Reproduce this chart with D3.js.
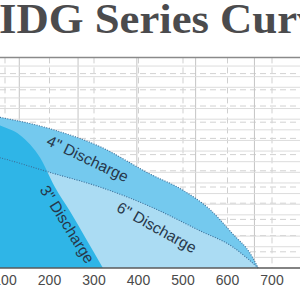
<!DOCTYPE html>
<html>
<head>
<meta charset="utf-8">
<script src="https://cdn.jsdelivr.net/npm/d3@7"></script>
<style>
  html, body { margin: 0; padding: 0; background: #fff; overflow: hidden; }
  svg { display: block; }
</style>
</head>
<body>
<div id="chart"></div>
<script>
// pump curves, flow in GPM, head in feet
const gpm4 = [0, 89, 201, 313, 426, 500, 561, 612, 651, 669];
const head4 = [97, 93, 86, 75, 58, 48, 36, 21, 9, 0];
const gpm6 = [0, 89, 201, 313, 426, 538, 612, 669];
const head6 = [73, 68, 59, 50, 38, 23, 13, 0];
const gpm3 = [0, 89, 134, 179, 212, 246, 280, 320];
const head3 = [97, 88, 82, 68, 50, 35, 19, 0];
const xTicks = [100, 200, 300, 400, 500, 600, 700];
const labels = ['4" Discharge', '3" Discharge', '6" Discharge'];
const labelGpm = [286, 240, 441];
const labelHead = [67.5, 27, 25];
const labelAngle = [25.5, 58, 29];

const W = 300, H = 300;
const svg = d3.select("#chart").append("svg").attr("width", W).attr("height", H);

const x = d3.scaleLinear().domain([0, 800]).range([-39.5, 316.5]);
const y = d3.scaleLinear().domain([0, 130]).range([268, 57.4]);

// grid: dashed = 100 gpm / 10 ft, solid = 500 L/min / 2 m
const g = svg.append("g");
g.selectAll(".vd").data(d3.range(0, 801, 100)).enter().append("line")
  .attr("x1", d => x(d)).attr("x2", d => x(d)).attr("y1", y(130)).attr("y2", y(0))
  .attr("stroke", "#cfcfcf").attr("stroke-dasharray", "6,4");
g.selectAll(".hd").data(d3.range(10, 130, 10)).enter().append("line")
  .attr("x1", 0).attr("x2", W).attr("y1", d => y(d)).attr("y2", d => y(d))
  .attr("stroke", "#d2d2d2").attr("stroke-dasharray", "6,4");
g.selectAll(".vs").data(d3.range(1, 7).map(k => k * 500 / 3.785)).enter().append("line")
  .attr("x1", d => x(d)).attr("x2", d => x(d)).attr("y1", y(130)).attr("y2", y(0))
  .attr("stroke", "#c4c4c4");
g.selectAll(".hs").data(d3.range(1, 20).map(k => k * 2 * 3.2808)).enter().append("line")
  .attr("x1", 0).attr("x2", W).attr("y1", d => y(d)).attr("y2", d => y(d))
  .attr("stroke", "#dcdcdc");

const area = d3.area().x(d => x(d[0])).y0(y(0)).y1(d => y(d[1])).curve(d3.curveMonotoneX);
const line = d3.line().x(d => x(d[0])).y(d => y(d[1])).curve(d3.curveMonotoneX);

const c4 = d3.zip(gpm4, head4), c6 = d3.zip(gpm6, head6), c3 = d3.zip(gpm3, head3);

svg.append("path").attr("d", area(c4)).attr("fill", "#74c9ee");
svg.append("path").attr("d", area(c6)).attr("fill", "#abdcf3");
svg.append("path").attr("d", area(c3)).attr("fill", "#2fb5e7");

[c4, c6].forEach(c => {
  svg.append("path").attr("d", line(c)).attr("fill", "none")
    .attr("stroke", "#3d6e98").attr("stroke-width", 1.1).attr("stroke-dasharray", "1,1.5");
});

// curve labels
labels.forEach((t, i) => {
  svg.append("text")
    .attr("transform", "translate(" + x(labelGpm[i]) + "," + y(labelHead[i]) + ") rotate(" + labelAngle[i] + ")")
    .attr("text-anchor", "middle").attr("dy", "0.35em")
    .attr("font-family", "Liberation Sans, Arial, sans-serif").attr("font-size", 15.5)
    .attr("fill", "#27374a").text(t);
});

// frame + axis
svg.append("line").attr("x1", 0).attr("x2", W).attr("y1", y(130)).attr("y2", y(130))
  .attr("stroke", "#8a8a8a").attr("stroke-width", 1.5);
svg.append("line").attr("x1", 0).attr("x2", W).attr("y1", y(0)).attr("y2", y(0))
  .attr("stroke", "#5a5a5a").attr("stroke-width", 1.5);

svg.selectAll(".tick").data(xTicks).enter().append("text")
  .attr("x", d => x(d)).attr("y", 285).attr("text-anchor", "middle")
  .attr("font-family", "Liberation Sans, Arial, sans-serif").attr("font-size", 14)
  .attr("fill", "#4a4a4a").text(d => d);

svg.append("text").attr("transform", "translate(-1,33) scale(1.065,1)")
  .attr("font-family", "Liberation Serif, serif").attr("font-weight", "bold")
  .attr("font-size", 42).attr("fill", "#4b4b4d").text("IDG Series Curves");
</script>
</body>
</html>
